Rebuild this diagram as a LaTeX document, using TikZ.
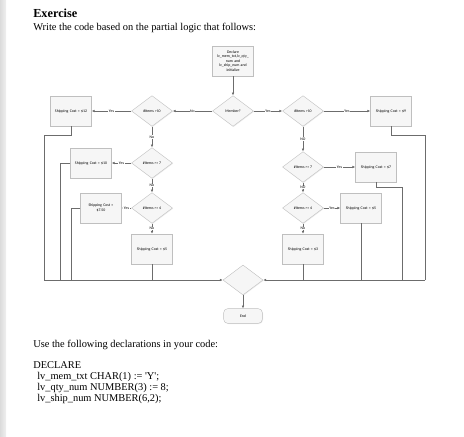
\documentclass[tikz,border=0pt]{standalone}
\usepackage{fontspec}
\setmainfont{Liberation Serif}
\newfontfamily\boxfont{Carlito}
\usetikzlibrary{shapes.geometric,arrows.meta,shadows}
\begin{document}
\begin{tikzpicture}[x=0.75pt,y=-0.75pt,
  fc/.style={draw=gray!50, fill=gray!7, line width=0.3pt,
    font=\boxfont\fontsize{2.9}{3.4}\selectfont, align=center, inner sep=0.5pt,
    drop shadow={shadow xshift=0.5pt,shadow yshift=-0.5pt,opacity=0.15}},
  procbox/.style={fc, rectangle, minimum width=30.75pt, minimum height=22.5pt, text width=28pt},
  decbox/.style={fc, diamond, minimum width=30.75pt, minimum height=23pt, inner sep=0pt},
  endbox/.style={fc, rectangle, rounded corners=3pt, minimum width=29pt, minimum height=11pt},
  conn/.style={draw=gray!85!black, line width=0.45pt},
  arr/.style={conn, -{Latex[length=2.2pt,width=2pt]}},
  lbl/.style={fill=white, inner sep=0.4pt, font=\boxfont\fontsize{2.9}{3.2}\selectfont},
  txt/.style={anchor=base west, inner sep=0pt, font=\fontsize{7.8}{8.5}\selectfont},
]
\useasboundingbox (0,0) rectangle (464,436);
\fill[left color=gray!28, right color=gray!12] (0,0) rectangle (6,436);

% texts
\node[txt, font=\bfseries\fontsize{9.2}{10}\selectfont] (title) at (33,17) {Exercise};
\node[txt] (sub) at (33,30) {Write the code based on the partial logic that follows:};
\node[txt] (use) at (33,347) {Use the following declarations in your code:};
\node[txt] (dcl) at (33,368) {DECLARE};
\node[txt] (d1) at (37,379) {lv\_mem\_txt CHAR(1) := \textquotesingle Y\textquotesingle;};
\node[txt] (d2) at (37,390) {lv\_qty\_num NUMBER(3) := 8;};
\node[txt] (d3) at (37,401) {lv\_ship\_num NUMBER(6,2);};

% flowchart nodes
\node[procbox] (declare) at (233,61) {Declare\\ lv\_mem\_txt,lv\_qty\_\\ num and\\ lv\_ship\_num and\\ initialize};
\node[decbox] (member) at (233,111) {Member?};
\node[decbox] (L1) at (152,111) {\#Items >10};
\node[procbox] (b12) at (71,111) {Shipping Cost = \$12};
\node[decbox] (R1) at (303,111) {\#Items >10};
\node[procbox] (b9) at (391,111) {Shipping Cost = \$9};
\node[decbox] (L2) at (152,163) {\#Items >= 7};
\node[procbox] (b10) at (91,163) {Shipping Cost = \$10};
\node[decbox] (L3) at (152,208) {\#Items >= 4};
\node[procbox] (b750) at (101,208) {Shipping Cost = \\ \$7.50};
\node[procbox] (b5L) at (152,249) {Shipping Cost = \$5};
\node[decbox] (R2) at (303,167) {\#Items >= 7};
\node[procbox] (b7) at (376,167) {Shipping Cost = \$7};
\node[decbox] (R3) at (303,208) {\#Items >= 4};
\node[procbox] (b5R) at (361,208) {Shipping Cost = \$5};
\node[procbox] (b3) at (303,249) {Shipping Cost = \$3};
\node[decbox, minimum width=30pt, minimum height=22.5pt] (merge) at (243,280) {};
\node[endbox] (end) at (243,316) {End};

\coordinate (jl) at (44,280);
\coordinate (jr) at (425,280);

% connectors
\draw[arr] (declare.south) -- (member.north);
\draw[arr] (member.west) -- node[lbl]{No} (L1.east);
\draw[arr] (L1.west) -- node[lbl]{Yes} (b12.east);
\draw[arr] (member.east) -- node[lbl]{Yes} (R1.west);
\draw[arr] (R1.east) -- node[lbl]{Yes} (b9.west);
\draw[arr] (L1.south) -- node[lbl]{No} (L2.north);
\draw[arr] (L2.west) -- node[lbl]{Yes} (b10.east);
\draw[arr] (L2.south) -- node[lbl]{No} (L3.north);
\draw[arr] (L3.west) -- node[lbl]{Yes} (b750.east);
\draw[arr] (L3.south) -- node[lbl]{No} (b5L.north);
\draw[arr] (R1.south) -- node[lbl]{NO} (R2.north);
\draw[arr] (R2.east) -- node[lbl]{Yes} (b7.west);
\draw[arr] (R2.south) -- node[lbl]{NO} (R3.north);
\draw[arr] (R3.east) -- node[lbl]{Yes} (b5R.west);
\draw[arr] (R3.south) -- node[lbl]{No} (b3.north);

\draw[conn] (b12.south) -- ++(0,9) -| (jl);
\draw[conn] (b10.west) -| (60,280);
\draw[conn] (b750.west) -| (71,280);
\draw[conn] (b5L.south) -- (b5L.south |- jl);
\draw[arr] (jl) -- (merge.west);
\draw[conn] (b9.south) -- ++(0,9) -| (jr);
\draw[conn] (b7.south) -- ++(0,5) -| (402,280);
\draw[conn] (b5R.south) -- (b5R.south |- jr);
\draw[conn] (b3.south) -- (b3.south |- jr);
\draw[arr] (jr) -- (merge.east);
\draw[arr] (merge.south) -- (end.north);
\end{tikzpicture}
\end{document}
